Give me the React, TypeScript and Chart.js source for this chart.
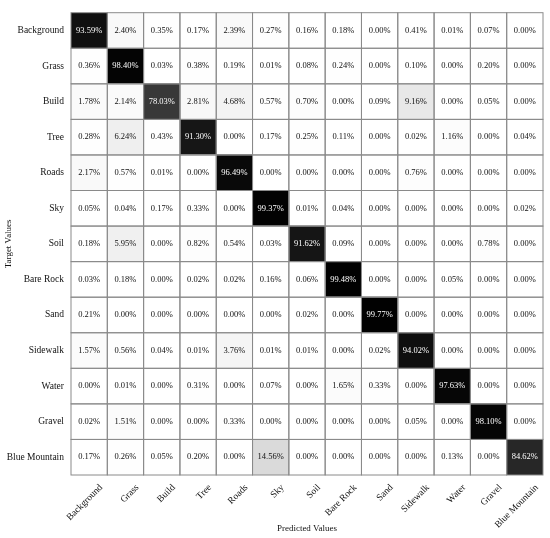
import React, { useEffect, useRef } from "react";
import { Chart, registerables } from "chart.js";

Chart.register(...registerables);

const predictedLabels = [
  "Background", "Grass", "Build", "Tree", "Roads", "Sky", "Soil",
  "Bare Rock", "Sand", "Sidewalk", "Water", "Gravel", "Blue Mountain",
];
const targetLabels = [
  "Background", "Grass", "Build", "Tree", "Roads", "Sky", "Soil",
  "Bare Rock", "Sand", "Sidewalk", "Water", "Gravel", "Blue Mountain",
];

const rowBackground = [93.59, 2.40, 0.35, 0.17, 2.39, 0.27, 0.16, 0.18, 0.00, 0.41, 0.01, 0.07, 0.00];
const rowGrass = [0.36, 98.40, 0.03, 0.38, 0.19, 0.01, 0.08, 0.24, 0.00, 0.10, 0.00, 0.20, 0.00];
const rowBuild = [1.78, 2.14, 78.03, 2.81, 4.68, 0.57, 0.70, 0.00, 0.09, 9.16, 0.00, 0.05, 0.00];
const rowTree = [0.28, 6.24, 0.43, 91.30, 0.00, 0.17, 0.25, 0.11, 0.00, 0.02, 1.16, 0.00, 0.04];
const rowRoads = [2.17, 0.57, 0.01, 0.00, 96.49, 0.00, 0.00, 0.00, 0.00, 0.76, 0.00, 0.00, 0.00];
const rowSky = [0.05, 0.04, 0.17, 0.33, 0.00, 99.37, 0.01, 0.04, 0.00, 0.00, 0.00, 0.00, 0.02];
const rowSoil = [0.18, 5.95, 0.00, 0.82, 0.54, 0.03, 91.62, 0.09, 0.00, 0.00, 0.00, 0.78, 0.00];
const rowBareRock = [0.03, 0.18, 0.00, 0.02, 0.02, 0.16, 0.06, 99.48, 0.00, 0.00, 0.05, 0.00, 0.00];
const rowSand = [0.21, 0.00, 0.00, 0.00, 0.00, 0.00, 0.02, 0.00, 99.77, 0.00, 0.00, 0.00, 0.00];
const rowSidewalk = [1.57, 0.56, 0.04, 0.01, 3.76, 0.01, 0.01, 0.00, 0.02, 94.02, 0.00, 0.00, 0.00];
const rowWater = [0.00, 0.01, 0.00, 0.31, 0.00, 0.07, 0.00, 1.65, 0.33, 0.00, 97.63, 0.00, 0.00];
const rowGravel = [0.02, 1.51, 0.00, 0.00, 0.33, 0.00, 0.00, 0.00, 0.00, 0.05, 0.00, 98.10, 0.00];
const rowBlueMountain = [0.17, 0.26, 0.05, 0.20, 0.00, 14.56, 0.00, 0.00, 0.00, 0.00, 0.13, 0.00, 84.62];

const matrix = [
  rowBackground, rowGrass, rowBuild, rowTree, rowRoads, rowSky, rowSoil,
  rowBareRock, rowSand, rowSidewalk, rowWater, rowGravel, rowBlueMountain,
];

const FONT = '"Liberation Serif", "Times New Roman", serif';

function cellColor(v: number): string {
  const g = Math.round(255 * (1 - v / 100));
  return `rgb(${g},${g},${g})`;
}

const cellPlugin = {
  id: "cellPlugin",
  afterDatasetsDraw(chart: any) {
    const ctx = chart.ctx;
    ctx.save();
    const cells: any[] = [];
    chart.data.datasets.forEach((_ds: any, j: number) => {
      const meta = chart.getDatasetMeta(j);
      meta.data.forEach((el: any, i: number) => {
        const { x, y, base, height } = el.getProps(["x", "y", "base", "height"], true);
        const left = Math.min(x, base);
        const right = Math.max(x, base);
        cells.push({ left, right, top: y - height / 2, height, y, v: matrix[i][j] });
      });
    });
    ctx.strokeStyle = "#8a8a8a";
    ctx.lineWidth = 1;
    cells.forEach((c) => ctx.strokeRect(c.left, c.top, c.right - c.left, c.height));
    ctx.font = `8.5px ${FONT}`;
    ctx.textAlign = "center";
    ctx.textBaseline = "middle";
    cells.forEach((c) => {
      ctx.fillStyle = c.v > 50 ? "#ffffff" : "#111111";
      ctx.fillText(c.v.toFixed(2) + "%", (c.left + c.right) / 2, c.y);
    });
    ctx.restore();
  },
};

export default function App() {
  const canvasRef = useRef<HTMLCanvasElement | null>(null);

  useEffect(() => {
    document.body.style.margin = "0";
    const canvas = canvasRef.current;
    if (!canvas) return;
    const datasets = predictedLabels.map((name, j) => ({
      label: name,
      data: matrix.map(() => 1),
      backgroundColor: matrix.map((row) => cellColor(row[j])),
      borderWidth: 0,
      barPercentage: 1,
      categoryPercentage: 1,
    }));
    const chart = new Chart(canvas, {
      type: "bar",
      data: { labels: targetLabels, datasets },
      plugins: [cellPlugin],
      options: {
        indexAxis: "y",
        animation: false,
        responsive: true,
        maintainAspectRatio: false,
        layout: { padding: { left: 0, top: 3, right: 7, bottom: 0 } },
        plugins: {
          legend: { display: false },
          tooltip: { enabled: false },
        },
        scales: {
          x: {
            type: "linear",
            stacked: true,
            min: 0,
            max: predictedLabels.length,
            afterBuildTicks: (axis: any) => {
              axis.ticks = predictedLabels.map((_n, i) => ({ value: i + 0.5 }));
            },
            afterFit: (scale: any) => {
              scale.height = 63;
            },
            grid: { display: false, drawTicks: false },
            border: { display: false },
            ticks: {
              autoSkip: false,
              minRotation: 45,
              maxRotation: 45,
              padding: 7,
              labelOffset: 12,
              color: "#111",
              font: { family: FONT, size: 9.5 },
              callback: (_v: any, index: number) => predictedLabels[index],
            },
            title: {
              display: true,
              text: "Predicted Values",
              color: "#111",
              font: { family: FONT, size: 9 },
              padding: { top: 4, bottom: 4 },
            },
          },
          y: {
            type: "category",
            stacked: true,
            afterFit: (scale: any) => {
              scale.width = 71;
            },
            grid: { display: false, drawTicks: false },
            border: { display: false },
            ticks: {
              padding: 7,
              color: "#111",
              font: { family: FONT, size: 9.5 },
            },
            title: {
              display: true,
              text: "Target Values",
              color: "#111",
              font: { family: FONT, size: 9 },
              padding: { top: 3, bottom: 3 },
            },
          },
        },
      },
    });
    return () => chart.destroy();
  }, []);

  return (
    <div style={{ position: "relative", width: 550, height: 538 }}>
      <canvas ref={canvasRef} />
    </div>
  );
}
